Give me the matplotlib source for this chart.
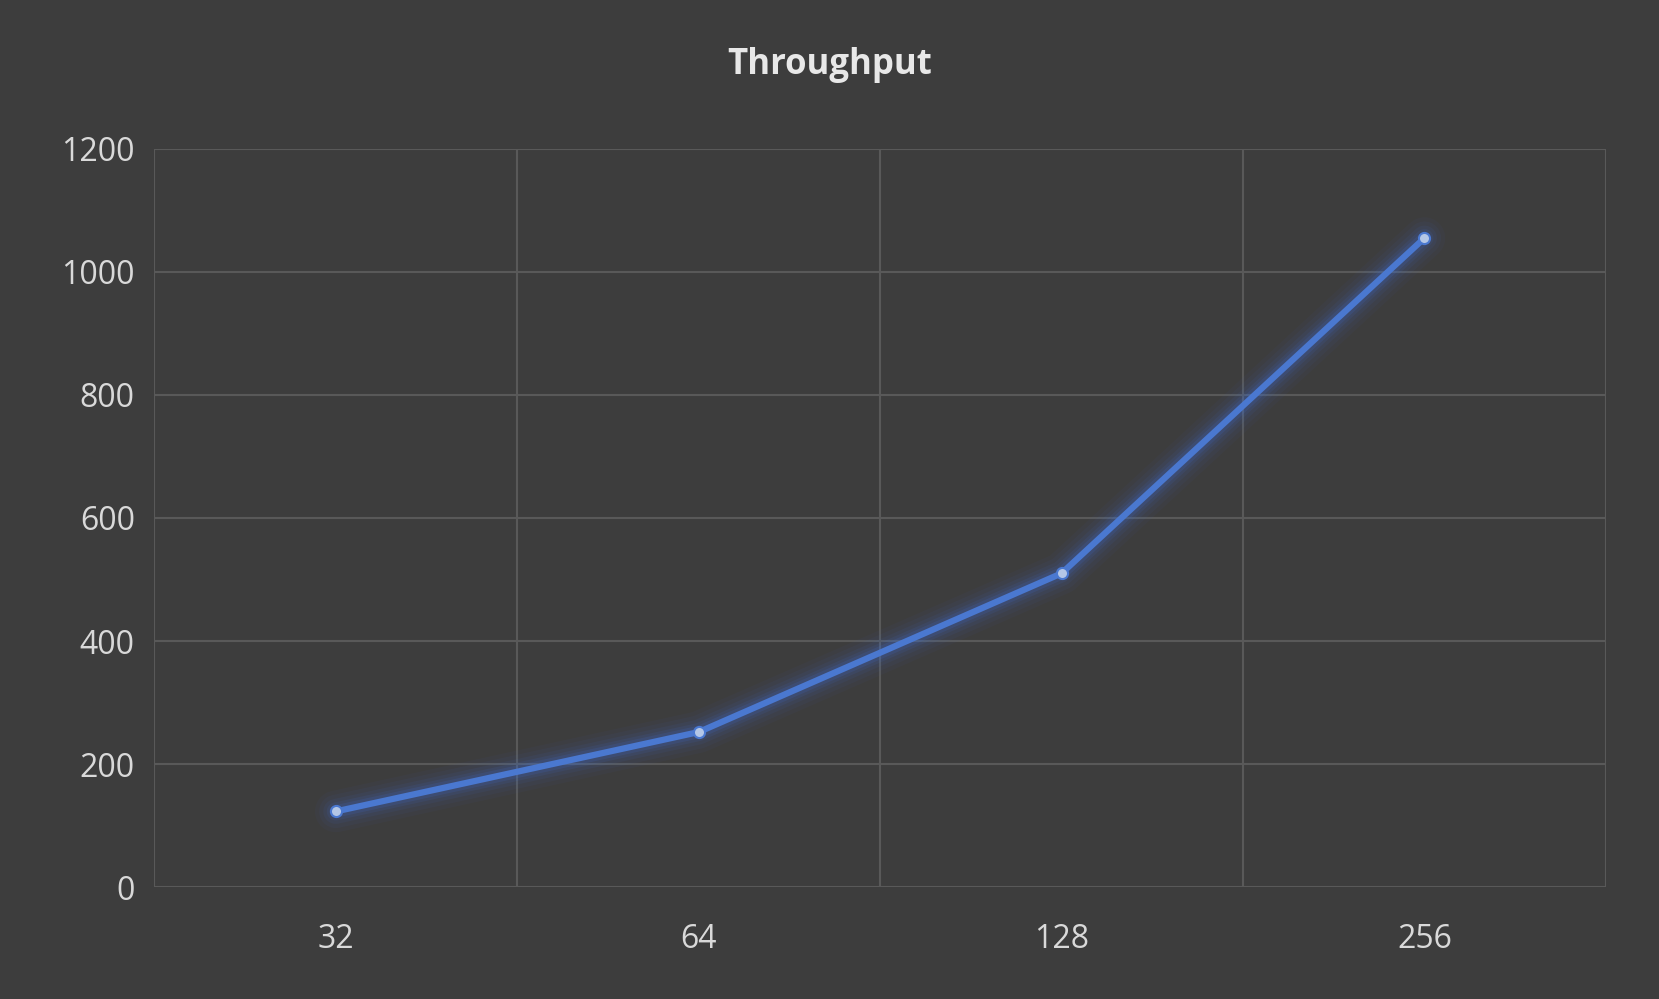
import matplotlib
matplotlib.use("Agg")
import matplotlib.pyplot as plt
import numpy as np

plt.rcParams['font.family'] = ['Open Sans', 'DejaVu Sans']

categories = ["32", "64", "128", "256"]
throughput = [123, 252, 510, 1055]
yticks = [0, 200, 400, 600, 800, 1000, 1200]

bg = "#3d3d3d"
fig = plt.figure(figsize=(16.59, 9.99), dpi=100, facecolor=bg)
ax = fig.add_axes([0.093, 0.112, 0.875, 0.739], facecolor=bg)
x = np.arange(len(categories))

for lw, a in [(30, 0.04), (24, 0.05), (18, 0.07), (13, 0.1), (9, 0.15)]:
    ax.plot(x, throughput, color="#3f6fd8", lw=lw, alpha=a, solid_capstyle="round", solid_joinstyle="round")
ax.plot(x, throughput, color="#4a78d0", lw=4.5, solid_joinstyle="round")
ax.plot(x, throughput, "o", color="#b4c7e7", ms=8, mec="#4a78d0", mew=1.5)

ax.set_xlim(-0.5, len(categories) - 0.5)
ax.set_ylim(0, 1200)
ax.set_yticks(yticks)
ax.set_xticks(x)
ax.set_xticklabels(categories)
ax.grid(False)
for yv in yticks:
    ax.axhline(yv, color="#595959", lw=1.5, zorder=0)
for xv in np.arange(-0.5, len(categories), 1):
    ax.axvline(xv, color="#595959", lw=1.5, zorder=0)
for s in ax.spines.values():
    s.set_visible(False)
ax.tick_params(which="both", length=0, labelsize=23, colors="#d9d9d9", pad=14)
ax.tick_params(axis="x", pad=26)
fig.text(0.5, 0.935, "Throughput", ha="center", va="center", fontsize=25, fontweight="bold", color="#e8e8e8")
fig.savefig("out.png", dpi=100, facecolor=bg)
